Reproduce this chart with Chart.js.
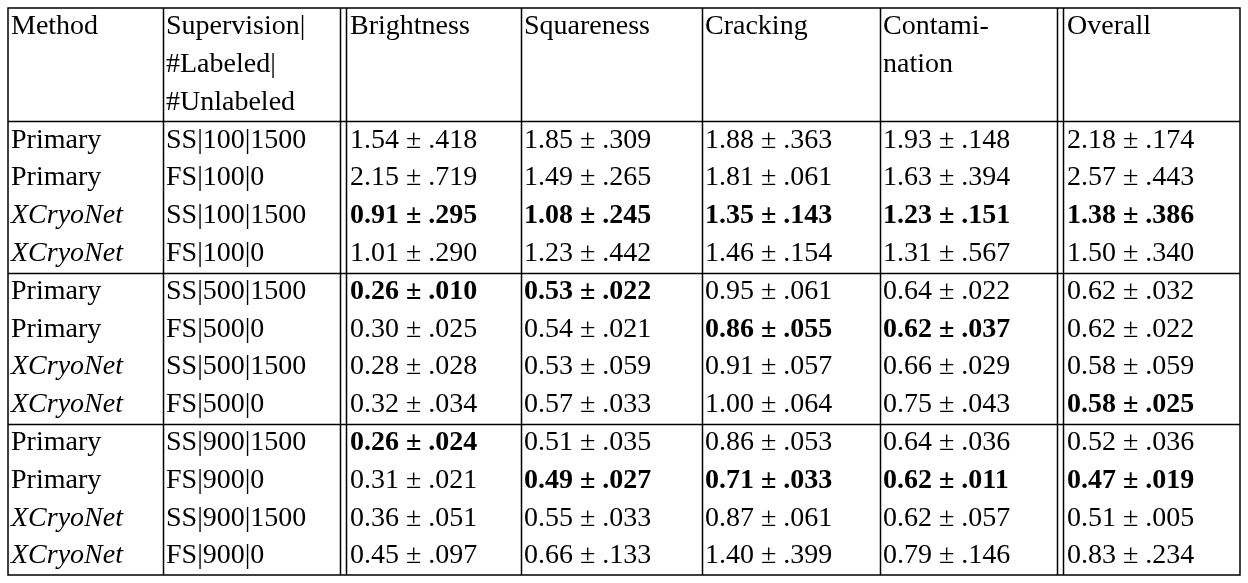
<!DOCTYPE html>
<html>
<head>
<script src="https://cdn.jsdelivr.net/npm/chart.js@4"></script>
<style>
  html, body { margin: 0; background: #fff; }
  #wrap { width: 1248px; height: 583px; }
</style>
</head>
<body>
<div id="wrap"><canvas id="tbl"></canvas></div>
<script>
// ================= DATA =================
const columns = ["Method", "Supervision", "Brightness", "Squareness", "Cracking", "Contamination", "Overall"];
const headerLines = [
    ["Method"],
    ["Supervision|", "#Labeled|", "#Unlabeled"],
    ["Brightness"],
    ["Squareness"],
    ["Cracking"],
    ["Contami-", "nation"],
    ["Overall"]
];
const methods = ["Primary", "Primary", "XCryoNet", "XCryoNet", "Primary", "Primary", "XCryoNet", "XCryoNet", "Primary", "Primary", "XCryoNet", "XCryoNet"];
const supervision = ["SS|100|1500", "FS|100|0", "SS|100|1500", "FS|100|0", "SS|500|1500", "FS|500|0", "SS|500|1500", "FS|500|0", "SS|900|1500", "FS|900|0", "SS|900|1500", "FS|900|0"];
const brightness = ["1.54 ± .418", "2.15 ± .719", "0.91 ± .295", "1.01 ± .290", "0.26 ± .010", "0.30 ± .025", "0.28 ± .028", "0.32 ± .034", "0.26 ± .024", "0.31 ± .021", "0.36 ± .051", "0.45 ± .097"];
const squareness = ["1.85 ± .309", "1.49 ± .265", "1.08 ± .245", "1.23 ± .442", "0.53 ± .022", "0.54 ± .021", "0.53 ± .059", "0.57 ± .033", "0.51 ± .035", "0.49 ± .027", "0.55 ± .033", "0.66 ± .133"];
const cracking = ["1.88 ± .363", "1.81 ± .061", "1.35 ± .143", "1.46 ± .154", "0.95 ± .061", "0.86 ± .055", "0.91 ± .057", "1.00 ± .064", "0.86 ± .053", "0.71 ± .033", "0.87 ± .061", "1.40 ± .399"];
const contamination = ["1.93 ± .148", "1.63 ± .394", "1.23 ± .151", "1.31 ± .567", "0.64 ± .022", "0.62 ± .037", "0.66 ± .029", "0.75 ± .043", "0.64 ± .036", "0.62 ± .011", "0.62 ± .057", "0.79 ± .146"];
const overall = ["2.18 ± .174", "2.57 ± .443", "1.38 ± .386", "1.50 ± .340", "0.62 ± .032", "0.62 ± .022", "0.58 ± .059", "0.58 ± .025", "0.52 ± .036", "0.47 ± .019", "0.51 ± .005", "0.83 ± .234"];
// bold cells: row indexes per metric column
const boldBrightness = [2, 4, 8];
const boldSquareness = [2, 4, 9];
const boldCracking = [2, 5, 9];
const boldContamination = [2, 5, 9];
const boldOverall = [2, 7, 9];

// ================= LAYOUT =================
// relative column widths (x scale units)
const colWidths = [155, 180, 178, 181, 178, 180, 180];
const colEdges = colWidths.reduce((a, w) => a.concat(a[a.length - 1] + w), [0]);

const headerRows = 3;
const rowLabels = ["h0", "h1", "h2"].concat(methods.map((m, i) => "r" + i));
const groupBreaks = [headerRows, headerRows + 4, headerRows + 8];
const doubleAfterCols = [1, 5];

const cellColumns = [methods, supervision, brightness, squareness, cracking, contamination, overall];
const boldSets = [[], [], boldBrightness, boldSquareness, boldCracking, boldContamination, boldOverall];

const FONT = '"Liberation Serif", "DejaVu Serif", serif';
const SIZE = 28;

const tablePlugin = {
    id: "tablePlugin",
    afterDraw(chart) {
        const ctx = chart.ctx;
        const xs = chart.scales.x, ys = chart.scales.y;
        const area = chart.chartArea;
        const rowH = ys.getPixelForValue(1) - ys.getPixelForValue(0);
        const leftOf = c => xs.getPixelForValue(colEdges[c]);
        const topOf = r => ys.getPixelForValue(r) - rowH / 2;
        const textX = c => leftOf(c) + 3 + (c > 0 && doubleAfterCols.includes(c - 1) ? 4 : 0);

        ctx.save();
        ctx.strokeStyle = "#000";
        ctx.lineWidth = 1.5;
        ctx.strokeRect(area.left, area.top, area.right - area.left, area.bottom - area.top);

        for (let c = 1; c < columns.length; c++) {
            const x = Math.round(leftOf(c)) + 0.5;
            const list = doubleAfterCols.includes(c - 1) ? [x - 3, x + 3] : [x];
            list.forEach(px => {
                ctx.beginPath();
                ctx.moveTo(px, area.top);
                ctx.lineTo(px, area.bottom);
                ctx.stroke();
            });
        }

        groupBreaks.forEach(r => {
            const y = Math.round(topOf(r)) + 0.5;
            ctx.beginPath();
            ctx.moveTo(area.left, y);
            ctx.lineTo(area.right, y);
            ctx.stroke();
        });

        ctx.fillStyle = "#000";
        ctx.textBaseline = "middle";
        ctx.textAlign = "left";
        headerLines.forEach((lines, c) => {
            lines.forEach((t, i) => {
                ctx.font = SIZE + "px " + FONT;
                ctx.fillText(t, textX(c), ys.getPixelForValue(i));
            });
        });

        cellColumns.forEach((col, c) => {
            col.forEach((t, r) => {
                let style = "";
                if (c === 0 && t === "XCryoNet") style = "italic ";
                if (boldSets[c].includes(r)) style = "bold ";
                ctx.font = style + SIZE + "px " + FONT;
                ctx.fillText(t, textX(c), ys.getPixelForValue(r + headerRows));
            });
        });
        ctx.restore();
    }
};

new Chart(document.getElementById("tbl"), {
    type: "scatter",
    data: { datasets: [{ data: [] }] },
    options: {
        responsive: true,
        maintainAspectRatio: false,
        animation: false,
        layout: { padding: { left: 8, right: 8, top: 8, bottom: 8 } },
        plugins: { legend: { display: false }, tooltip: { enabled: false } },
        scales: {
            x: { type: "linear", min: 0, max: colEdges[colEdges.length - 1], display: false },
            y: { type: "category", labels: rowLabels, offset: true, display: false }
        }
    },
    plugins: [tablePlugin]
});
</script>
</body>
</html>
